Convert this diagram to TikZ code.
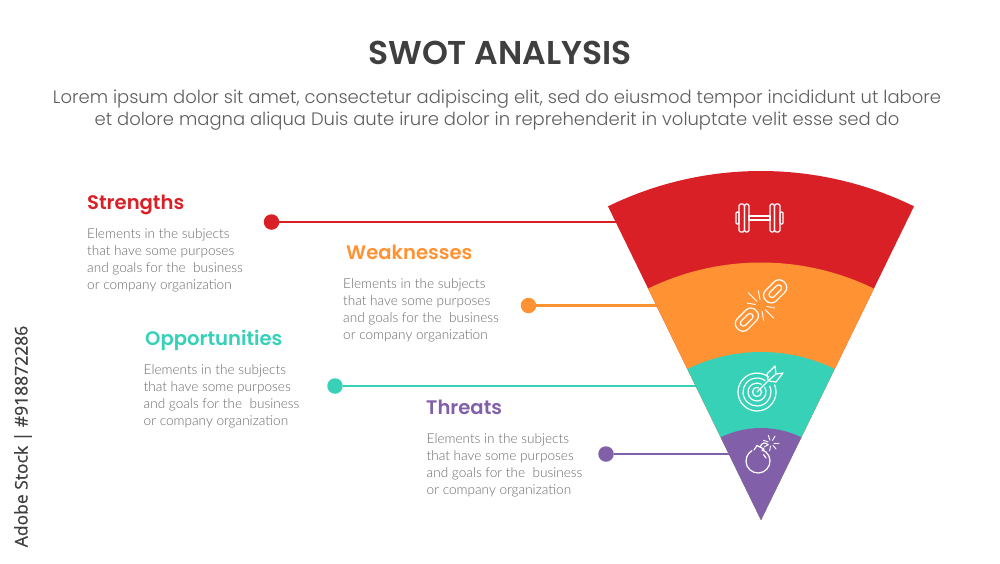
\documentclass[tikz,border=0pt]{standalone}
\usepackage{fontspec}
\setmainfont{Lato Light}
\newfontfamily\popbold{Poppins SemiBold}
\newfontfamily\poplight{Poppins Light}
\newfontfamily\sideFont[FakeBold=0.6]{Open Sans}
\definecolor{cred}{HTML}{D92027}
\definecolor{corange}{HTML}{FF9233}
\definecolor{cteal}{HTML}{36D1B7}
\definecolor{cpurple}{HTML}{8160A9}
\definecolor{ctitle}{HTML}{3F3F3F}
\definecolor{csub}{HTML}{5E5E5E}
\definecolor{cbody}{HTML}{6A6A6A}
\tikzset{
  x=1pt,y=1pt,
  head/.style={anchor=base west,inner sep=0pt,font=\popbold\fontsize{19.6}{22}\selectfont},
  body/.style={anchor=north west,inner sep=0pt,align=left,text=cbody,font=\fontsize{13.6}{17}\selectfont},
  dotmark/.style={circle,inner sep=0pt,minimum size=15.5pt},
  link/.style={line width=2.2pt},
  icon/.style={draw=white,line width=1.2pt,line join=round,line cap=round},
}
\newcommand{\bodytext}{Elements in the subjects\\that have some purposes\\and goals for the\ \ business\\or company organization}
\begin{document}
\begin{tikzpicture}
\useasboundingbox (0,-563) rectangle (1000,0);
\fill[white] (0,-563) rectangle (1000,0);
\node[inner sep=0pt,text=ctitle,font=\popbold\fontsize{33}{35}\selectfont] (title) at (500,-53) {SWOT ANALYSIS};
\node[inner sep=0pt,text=csub,align=center,font=\poplight\fontsize{17.97}{22}\selectfont] (subtitle) at (497,-110) {Lorem ipsum dolor sit amet, consectetur adipiscing elit, sed do eiusmod tempor incididunt ut labore\\et dolore magna aliqua Duis aute irure dolor in reprehenderit in voluptate velit esse sed do};
\node[rotate=90,inner sep=0pt,text=ctitle,font=\sideFont\fontsize{17.5}{19}\selectfont] (stock) at (23,-436.5) {Adobe Stock | \#918872286};
% link end coordinates
\coordinate (redend) at (640,-222);
\coordinate (orangeend) at (680,-305.5);
\coordinate (tealend) at (720,-386);
\coordinate (purpleend) at (750,-454);
\node[dotmark,fill=cred] (reddot) at (271.5,-222) {};
\node[dotmark,fill=corange] (orangedot) at (528.5,-305.5) {};
\node[dotmark,fill=cteal] (tealdot) at (335,-386) {};
\node[dotmark,fill=cpurple] (purpledot) at (606,-454) {};
\draw[link,cred] (reddot) -- (redend);
\draw[link,corange] (orangedot) -- (orangeend);
\draw[link,cteal] (tealdot) -- (tealend);
\draw[link,cpurple] (purpledot) -- (purpleend);
% funnel
\begin{scope}[shift={(761,-520)}]
\fill[cred] (0,0) -- (116:349) arc (116:64:349) -- cycle;
\fill[corange] (0,0) -- (116:257.5) arc (116:64:257.5) -- cycle;
\fill[cteal] (0,0) -- (116:168) arc (116:64:168) -- cycle;
\fill[cpurple] (0,0) -- (116:92) arc (116:64:92) -- cycle;
\end{scope}
% dumbbell
\begin{scope}[shift={(759.5,-218)}]
\draw[icon] (-10.5,2) -- (10.5,2) -- (10.5,-2) -- (-10.5,-2) -- cycle;
\foreach \s in {-1,1}{
 \begin{scope}[xscale=\s]
 \draw[icon,rounded corners=1.5pt] (10.5,-14) rectangle (15,14);
 \draw[icon,rounded corners=1.5pt] (15,-14) rectangle (20.5,14);
 \draw[icon,rounded corners=1pt] (20.5,-6) rectangle (23.5,6);
 \end{scope}}
\end{scope}
% broken chain
\begin{scope}[shift={(761,-305.5)},rotate=45]
\foreach \s in {-1,1}{
 \begin{scope}[xscale=\s]
 \draw[icon,rounded corners=7pt] (7,-7.5) rectangle (33,7.5);
 \draw[icon,rounded corners=3pt] (12.5,-3) rectangle (28,3);
 \end{scope}}
\foreach \a/\r/\q in {55/6/15,90/6/18,125/6/14,235/6/15,270/6/18,305/6/14}{
 \draw[icon,line width=.9pt] (\a:\r) -- (\a:\q);}
\end{scope}
% target
\begin{scope}[shift={(757,-392)}]
\draw[icon] (22:19) arc (22:-308:19);
\draw[icon] (25:14) arc (25:-305:14);
\draw[icon] (30:9) arc (30:-300:9);
\draw[icon] (40:4.5) arc (40:-290:4.5);
\draw[icon] (0,0) -- (12,12);
\draw[icon] (11,12) -- (10,18) -- (18,26) -- (19,18) -- (26,19) -- (19,10) -- (12,11);
\draw[icon] (12,12) -- (19,18);
\end{scope}
% bomb
\begin{scope}[shift={(758,-461)}]
\draw[icon] (70:12) arc (70:-240:12);
\draw[icon] (8,3) arc (20:50:8);
\draw[icon] (-4,11) -- (-1,15.5) -- (6,12) -- (4,10);
\draw[icon] (2,14) .. controls (4,19) and (8,19) .. (10,16);
\foreach \a in {0,60,110,160,210,260,310}{
 \draw[icon,line width=.9pt] ([shift={(13,18)}]\a:3) -- ([shift={(13,18)}]\a:8);}
\end{scope}
% labels
\node[head,text=cred] (h1) at (87,-209) {Strengths};
\node[body] (b1) at (87,-228) {\bodytext};
\node[head,text=corange] (h2) at (346,-259.5) {Weaknesses};
\node[body] (b2) at (343,-278.5) {\bodytext};
\node[head,text=cteal] (h3) at (145,-345.5) {Opportunities};
\node[body] (b3) at (143.5,-364.5) {\bodytext};
\node[head,text=cpurple] (h4) at (426,-414) {Threats};
\node[body] (b4) at (426.5,-433) {\bodytext};
\end{tikzpicture}
\end{document}
